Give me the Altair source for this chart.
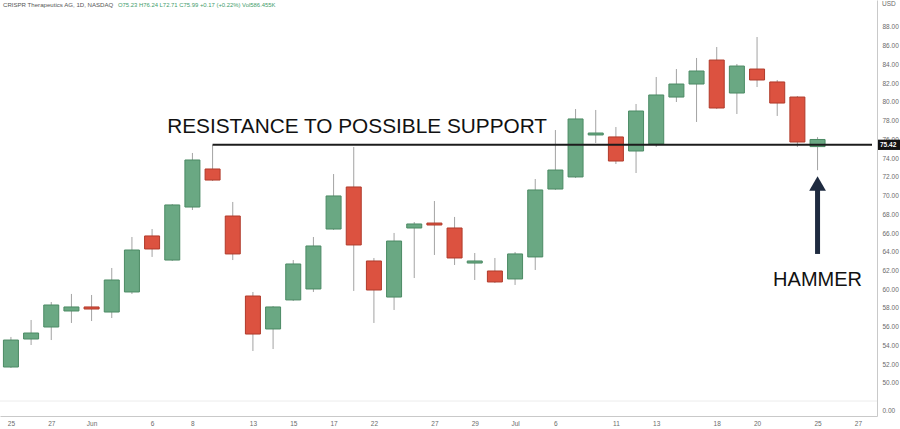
import altair as alt
import pandas as pd

# ---- data ----
opens = [51.70, 54.69, 55.97, 57.68, 58.11, 57.57, 59.71, 65.69, 63.12, 68.78, 72.84, 67.82, 59.28, 55.76,
         58.86, 60.03, 66.43, 70.92, 63.02, 59.17, 66.54, 67.07, 66.54, 62.80, 61.95, 61.10, 63.45, 70.70,
         71.99, 76.47, 76.26, 74.76, 75.51, 80.52, 81.91, 84.47, 80.95, 83.51, 82.13, 80.52, 75.23]
highs = [54.91, 56.72, 58.64, 59.50, 59.39, 62.27, 65.58, 66.43, 69.10, 74.55, 75.42, 69.32, 59.71, 58.21,
         63.12, 65.58, 72.30, 75.19, 63.34, 66.01, 67.18, 69.42, 67.72, 63.87, 63.34, 63.98, 71.77, 77.00,
         79.24, 79.14, 77.32, 79.78, 82.66, 83.51, 84.69, 85.86, 84.05, 86.93, 82.34, 80.63, 76.24]
lows = [51.60, 54.05, 54.58, 56.40, 56.61, 56.93, 59.50, 63.45, 63.02, 68.46, 71.56, 63.12, 53.41, 53.62,
        58.75, 59.71, 66.33, 59.82, 56.40, 57.79, 61.20, 63.66, 62.59, 60.99, 60.67, 60.46, 62.06, 70.60,
        71.88, 75.61, 73.37, 72.41, 75.19, 79.99, 77.86, 79.24, 78.71, 81.59, 78.50, 75.19, 72.71]
closes = [54.58, 55.33, 58.32, 58.11, 57.89, 60.99, 64.19, 64.30, 69.00, 73.80, 71.66, 63.77, 55.22, 58.11,
          62.70, 64.62, 69.96, 64.73, 59.92, 65.15, 66.97, 66.86, 63.34, 63.02, 60.78, 63.77, 70.60, 72.73,
          78.18, 76.68, 73.69, 79.03, 80.74, 81.91, 83.30, 79.35, 83.83, 82.34, 79.88, 75.72, 75.99]

tick_idx = [0, 2, 4, 7, 9, 12, 14, 16, 18, 21, 23, 25, 27, 30, 32, 35, 37, 40, 42]
tick_labels = ["25", "27", "Jun", "6", "8", "13", "15", "17", "22", "27", "29", "Jul", "6", "11", "13",
               "18", "20", "25", "27"]
price_ticks = [50, 52, 54, 56, 58, 60, 62, 64, 66, 68, 70, 72, 74, 76, 78, 80, 82, 84, 86, 88]
volume_tick = [47.1]  # shown as "0.00" (volume pane)

resistance_price = 75.42
resistance_start_idx = 10
resistance_text = "RESISTANCE TO POSSIBLE SUPPORT"
resistance_text_pos = [7.75, 76.68]
hammer_idx = 40
hammer_text = "HAMMER"
hammer_text_price = 60.35
arrow_tip_price = 71.29
arrow_tail_price = 63.77
pane_sep_price = 48.07

header_name = "CRISPR Therapeutics AG, 1D, NASDAQ"
header_vals = "O75.23  H76.24  L72.71  C75.99  +0.17 (+0.22%)  Vol586.455K"

# ---- tables ----
n = len(opens)
df = pd.DataFrame({
    "idx": list(range(n)),
    "open": opens, "high": highs, "low": lows, "close": closes,
})
df["dir"] = ["up" if c >= o else "down" for o, c in zip(opens, closes)]

GREEN, GREEN_D = "#6aa883", "#4b8a64"
RED, RED_D = "#dc5240", "#b03a2a"
FONT = "Liberation Sans"

x_scale = alt.Scale(domain=[-0.294, 42.70], nice=False, zero=False)
y_scale = alt.Scale(domain=[46.47, 90.88], nice=False, zero=False)

lab_arr = [""] * 43
for i, l in zip(tick_idx, tick_labels):
    lab_arr[i] = l
label_expr_x = "[" + ",".join("'" + s + "'" for s in lab_arr) + "][datum.value]"

x_axis = alt.Axis(values=tick_idx, labelExpr=label_expr_x, grid=False, ticks=False,
                  domainColor="#c9c9c9", labelColor="#6b6b6b", labelFontSize=6.5,
                  labelFont=FONT, labelPadding=4, title=None, labelFlush=False,
                  labelOverlap=False)
y_axis = alt.Axis(orient="right", values=volume_tick + price_ticks,
                  labelExpr="datum.value < 49 ? '0.00' : format(datum.value, '.2f')",
                  grid=False, ticks=False, domainColor="#c9c9c9", labelColor="#6b6b6b",
                  labelFontSize=6.5, labelFont=FONT, labelPadding=5, labelAlign="left",
                  labelOverlap=False, labelFlush=False, labelBound=False, title=None)

base = alt.Chart(df)

wicks = base.mark_rule(color="#a3a3a3", strokeWidth=1).encode(
    x=alt.X("idx:Q", scale=x_scale, axis=x_axis),
    y=alt.Y("low:Q", scale=y_scale, axis=y_axis),
    y2="high:Q",
)

bodies = base.mark_bar(size=15, strokeWidth=1).encode(
    x=alt.X("idx:Q", scale=x_scale, axis=x_axis),
    y=alt.Y("open:Q", scale=y_scale, axis=y_axis),
    y2="close:Q",
    color=alt.Color("dir:N", scale=alt.Scale(domain=["up", "down"], range=[GREEN, RED]), legend=None),
    stroke=alt.Stroke("dir:N", scale=alt.Scale(domain=["up", "down"], range=[GREEN_D, RED_D]), legend=None),
)

pane_sep = alt.Chart(pd.DataFrame({"p": [pane_sep_price]})).mark_rule(
    color="#ececec", strokeWidth=1).encode(y=alt.Y("p:Q", scale=y_scale, axis=y_axis))

res_df = pd.DataFrame({"x0": [resistance_start_idx], "x1": [42.70], "p": [resistance_price]})
res_line = alt.Chart(res_df).mark_rule(color="#1c1c1c", strokeWidth=2).encode(
    x=alt.X("x0:Q", scale=x_scale, axis=x_axis), x2="x1:Q", y=alt.Y("p:Q", scale=y_scale, axis=y_axis))

tag_df = pd.DataFrame({"p": [resistance_price], "lo": [resistance_price - 0.55],
                       "hi": [resistance_price + 0.55], "t": [f"{resistance_price:.2f}"]})
tag_box = alt.Chart(tag_df).mark_rect(color="#131313").encode(
    x=alt.value(878), x2=alt.value(900), y=alt.Y("lo:Q", scale=y_scale, axis=y_axis), y2="hi:Q")
tag_text = alt.Chart(tag_df).mark_text(color="white", fontSize=6.5, fontWeight="bold", font=FONT,
                                       align="left", baseline="middle").encode(
    x=alt.value(880), y=alt.Y("p:Q", scale=y_scale, axis=y_axis), text="t:N")

ann_df = pd.DataFrame({"x": [resistance_text_pos[0]], "p": [resistance_text_pos[1]], "t": [resistance_text]})
res_text = alt.Chart(ann_df).mark_text(fontSize=20.8, font=FONT, color="#111111", align="left",
                                       baseline="alphabetic").encode(
    x=alt.X("x:Q", scale=x_scale, axis=x_axis), y=alt.Y("p:Q", scale=y_scale, axis=y_axis), text="t:N")

ham_df = pd.DataFrame({"x": [hammer_idx], "p": [hammer_text_price], "t": [hammer_text]})
ham_text = alt.Chart(ham_df).mark_text(fontSize=20, font=FONT, color="#111111", align="center",
                                       baseline="alphabetic").encode(
    x=alt.X("x:Q", scale=x_scale, axis=x_axis), y=alt.Y("p:Q", scale=y_scale, axis=y_axis), text="t:N")

arr_df = pd.DataFrame({"x": [hammer_idx], "tail": [arrow_tail_price], "tip": [arrow_tip_price - 0.6],
                       "head": [arrow_tip_price]})
arrow_shaft = alt.Chart(arr_df).mark_rule(color="#1f2b40", strokeWidth=5).encode(
    x=alt.X("x:Q", scale=x_scale, axis=x_axis), y=alt.Y("tail:Q", scale=y_scale, axis=y_axis), y2="tip:Q")
arrow_head = alt.Chart(arr_df).mark_point(shape="triangle-up", size=280, filled=True, opacity=1,
                                          color="#1f2b40").encode(
    x=alt.X("x:Q", scale=x_scale, axis=x_axis), y=alt.Y("head:Q", scale=y_scale, axis=y_axis))

hdr_df = pd.DataFrame({"a": [header_name], "b": [header_vals], "u": ["USD"]})
hdr1 = alt.Chart(hdr_df).mark_text(fontSize=6.1, font=FONT, color="#555555", align="left",
                                   baseline="middle").encode(x=alt.value(3), y=alt.value(5), text="a:N")
hdr2 = alt.Chart(hdr_df).mark_text(fontSize=5.9, font=FONT, color="#3f9c6b", align="left",
                                   baseline="middle").encode(x=alt.value(118), y=alt.value(5), text="b:N")
usd = alt.Chart(hdr_df).mark_text(fontSize=6.5, font=FONT, color="#6b6b6b", align="left",
                                  baseline="middle").encode(x=alt.value(882), y=alt.value(4), text="u:N")

chart = alt.layer(
    pane_sep, wicks, bodies, res_line, res_text, ham_text, arrow_shaft, arrow_head,
    tag_box, tag_text, hdr1, hdr2, usd
).properties(
    width=877, height=416, autosize="none",
    padding={"left": 0, "top": 0, "right": 23, "bottom": 13},
    background="white",
).configure_view(stroke=None).configure_axis(labelOverlap=False)

chart.save("out.html", embed_options={"renderer": "svg", "actions": False})
